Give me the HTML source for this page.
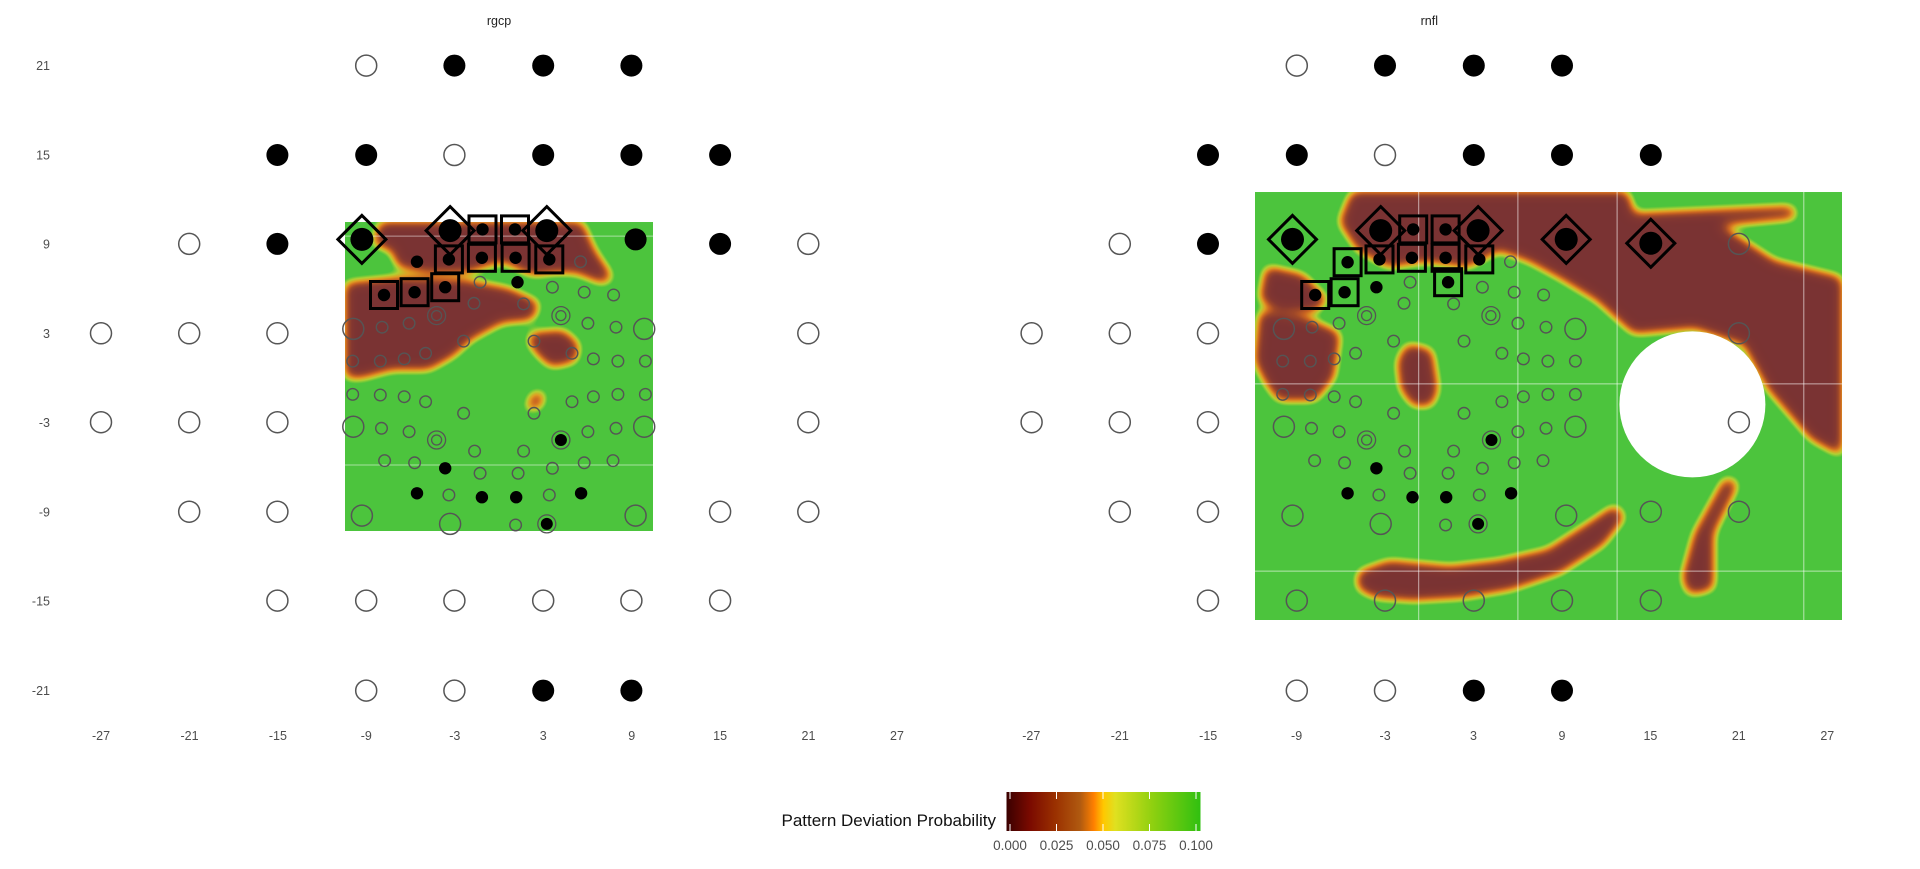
<!DOCTYPE html>
<html><head><meta charset="utf-8"><style>
html,body{margin:0;padding:0;background:#fff;}
svg{display:block;font-family:"Liberation Sans",sans-serif;}
</style></head><body>
<svg id="s" width="1920" height="869" viewBox="0 0 1920 869" xmlns="http://www.w3.org/2000/svg">
<defs>
<linearGradient id="cb" x1="0" x2="1" y1="0" y2="0">
<stop offset="0" stop-color="#3a0000"/>
<stop offset="0.12" stop-color="#7a0a00"/>
<stop offset="0.25" stop-color="#9a3000"/>
<stop offset="0.38" stop-color="#b05a10"/>
<stop offset="0.45" stop-color="#ff8000"/>
<stop offset="0.5" stop-color="#ffc800"/>
<stop offset="0.56" stop-color="#e0e020"/>
<stop offset="0.75" stop-color="#90d010"/>
<stop offset="1" stop-color="#30c010"/>
</linearGradient>
<filter id="hm" x="-5%" y="-5%" width="110%" height="110%" color-interpolation-filters="sRGB">
<feGaussianBlur stdDeviation="6"/>
<feComponentTransfer>
<feFuncR type="table" tableValues="0.48 0.52 0.62 0.80 0.88 0.70 0.30 0.30"/>
<feFuncG type="table" tableValues="0.20 0.22 0.28 0.40 0.62 0.82 0.77 0.77"/>
<feFuncB type="table" tableValues="0.20 0.19 0.16 0.13 0.14 0.20 0.24 0.24"/>
</feComponentTransfer>
</filter>
<clipPath id="cl"><rect x="345" y="222" width="308" height="309"/></clipPath>
<clipPath id="cr"><rect x="1255" y="192" width="587" height="428"/></clipPath>
</defs>
<g id="g"></g>
</svg>
<script>
var g=document.getElementById('g'),h='';
function P(pts,ox){var s='';for(var i=0;i<pts.length;i+=2){s+=(ox+pts[i]/1.633).toFixed(1)+','+(pts[i+1]/1.8).toFixed(1)+' ';}return s;}
h+='<g clip-path="url(#cl)"><g filter="url(#hm)"><rect x="330" y="210" width="340" height="340" fill="#fff"/>';
var L=[[620,400,950,400,970,450,1000,500,985,510,940,490,905,490,870,495,820,470,760,490,700,490,650,480,640,450,610,440],
[564,510,650,500,760,505,830,520,880,545,870,575,820,580,770,610,740,640,700,665,640,665,590,680,564,680],
[865,600,920,595,945,620,940,650,900,660,880,640,865,620],
[858,738,872,705,890,710,880,735]];
L.forEach(function(p){h+='<polygon fill="#000" points="'+P(p,0)+'"/>';});
h+='</g></g>';
h+='<g clip-path="url(#cr)"><g filter="url(#hm)"><rect x="1240" y="180" width="620" height="460" fill="#fff"/>';
var R=[[640,345,1090,345,1100,385,1360,372,1365,392,1240,405,1330,470,1440,500,1440,820,1390,790,1320,700,1280,620,1200,590,1100,600,1040,540,980,500,930,470,880,450,830,480,760,470,700,480,650,450,620,400],
[500,480,560,495,600,540,580,560,520,560,490,540],
[490,560,560,570,620,600,610,680,580,720,520,720,500,690,482,650],
[730,620,770,630,780,700,770,730,740,730,720,700,715,650],
[650,1030,700,1010,800,1020,880,1010,960,990,1030,940,1070,910,1085,930,1050,980,980,1030,900,1060,820,1075,740,1080,680,1075,650,1060],
[1250,860,1270,870,1230,960,1230,1060,1190,1070,1180,1040,1200,960]];
R.forEach(function(p){h+='<polygon fill="#000" points="'+P(p,960)+'"/>';});
h+='</g>';
[749,911,1073,1378].forEach(function(x){var X=(960+x/1.633).toFixed(1);h+='<line x1="'+X+'" x2="'+X+'" y1="190" y2="622" stroke="#fff" stroke-opacity="0.6" stroke-width="1"/>';});
[691,1028].forEach(function(y){var Y=(y/1.8).toFixed(1);h+='<line x1="1255" x2="1842" y1="'+Y+'" y2="'+Y+'" stroke="#fff" stroke-opacity="0.6" stroke-width="1"/>';});
h+='<circle cx="1692.4" cy="404.4" r="73" fill="#fff"/></g>';
[425,837].forEach(function(y){var Y=(y/1.8).toFixed(1);h+='<line x1="345" x2="653" y1="'+Y+'" y2="'+Y+'" stroke="#fff" stroke-opacity="0.5" stroke-width="1"/>';});
var xs=[-27,-21,-15,-9,-3,3,9,15,21,27],ys=[21,15,9,3,-3,-9,-15,-21];
[[499,'rgcp'],[1429.3,'rnfl']].forEach(function(pp){var cx=pp[0];
h+='<text x="'+cx+'" y="25" font-size="12.5" fill="#222" text-anchor="middle">'+pp[1]+'</text>';
xs.forEach(function(v){h+='<text x="'+(cx+v*14.74).toFixed(1)+'" y="740" font-size="12.5" fill="#4d4d4d" text-anchor="middle">'+v+'</text>';});});
ys.forEach(function(v){h+='<text x="50" y="'+(378-v*14.88+4.5).toFixed(1)+'" font-size="12.5" fill="#4d4d4d" text-anchor="end">'+v+'</text>';});
function C(ox,zx,zy,t){var x=(ox+zx/1.633).toFixed(1),y=(zy/1.8).toFixed(1);
if(t=='O')h+='<circle cx="'+x+'" cy="'+y+'" r="10.5" fill="none" stroke="#555" stroke-width="1.5"/>';
else if(t=='F')h+='<circle cx="'+x+'" cy="'+y+'" r="11" fill="#000"/>';
else if(t=='o')h+='<circle cx="'+x+'" cy="'+y+'" r="5.8" fill="none" stroke="#555" stroke-width="1.4"/>';
else if(t=='f')h+='<circle cx="'+x+'" cy="'+y+'" r="6.2" fill="#000"/>';
else if(t=='d')h+='<circle cx="'+x+'" cy="'+y+'" r="9" fill="none" stroke="#555" stroke-width="1.3"/><circle cx="'+x+'" cy="'+y+'" r="5" fill="none" stroke="#555" stroke-width="1.3"/>';
else if(t=='df')h+='<circle cx="'+x+'" cy="'+y+'" r="9" fill="none" stroke="#555" stroke-width="1.3"/><circle cx="'+x+'" cy="'+y+'" r="6" fill="#000"/>';
else if(t=='B')h+='<rect x="'+(x-13.5)+'" y="'+(y-13.5)+'" width="27" height="27" fill="none" stroke="#000" stroke-width="3"/><circle cx="'+x+'" cy="'+y+'" r="6.2" fill="#000"/>';
else if(t=='D')h+='<polygon points="'+x+','+(y-24)+' '+(+x+24)+','+y+' '+x+','+(+y+24)+' '+(x-24)+','+y+'" fill="none" stroke="#000" stroke-width="3"/><circle cx="'+x+'" cy="'+y+'" r="11.5" fill="#000"/>';
}
var os=[[948,471],[784,508],[902,517],[954,526],[1002,531],[774,546],[855,547],[624,589],[668,582],[960,582],[1006,589],[757,614],[872,614],[934,636],[576,650],[621,650],[660,646],[695,636],[969,646],[1009,650],[1054,650],[576,710],[621,711],[660,714],[695,723],[934,723],[969,714],[1009,710],[1054,710],[757,744],[872,744],[623,771],[668,777],[960,777],[1006,771],[775,812],[855,812],[628,829],[677,833],[902,843],[954,833],[1001,829],[784,852],[846,852],[733,891],[897,891],[842,945]];
var ds=[[713,568],[916,568],[713,792]];
[[598,118,'O'],[742,118,'F'],[887,118,'F'],[1031,118,'F'],
[453,279,'F'],[598,279,'F'],[742,279,'O'],[887,279,'F'],[1031,279,'F'],[1176,279,'F'],
[309,439,'O'],[453,439,'F'],[1176,439,'F'],[1320,439,'O'],[1038,431,'F'],
[165,600,'O'],[309,600,'O'],[453,600,'O'],[1320,600,'O'],[577,592,'O'],[1052,592,'O'],
[165,760,'O'],[309,760,'O'],[453,760,'O'],[1320,760,'O'],[577,768,'O'],[1052,768,'O'],
[309,921,'O'],[453,921,'O'],[1176,921,'O'],[1320,921,'O'],[591,928,'O'],[735,943,'O'],[1038,928,'O'],
[453,1081,'O'],[598,1081,'O'],[742,1081,'O'],[887,1081,'O'],[1031,1081,'O'],[1176,1081,'O'],
[598,1243,'O'],[742,1243,'O'],[887,1243,'F'],[1031,1243,'F']].forEach(function(p){C(0,p[0],p[1],p[2]);});
os.forEach(function(p){C(0,p[0],p[1],'o');});
ds.forEach(function(p){C(0,p[0],p[1],'d');});
[[681,471],[845,508],[727,843],[681,888],[787,895],[843,895],[949,888]].forEach(function(p){C(0,p[0],p[1],'f');});
C(0,916,792,'df');C(0,893,943,'df');
[[788,413],[841,413],[733,467],[787,464],[842,464],[897,467],[627,531],[677,526],[727,517]].forEach(function(p){C(0,p[0],p[1],'B');});
[[591,431],[735,415],[893,415]].forEach(function(p){C(0,p[0],p[1],'D');});
[[550,118,'O'],[694,118,'F'],[839,118,'F'],[983,118,'F'],
[405,279,'F'],[550,279,'F'],[694,279,'O'],[839,279,'F'],[983,279,'F'],[1128,279,'F'],
[261,439,'O'],[405,439,'F'],[1272,439,'O'],
[117,600,'O'],[261,600,'O'],[405,600,'O'],[529,592,'O'],[1005,592,'O'],[1272,600,'O'],
[117,760,'O'],[261,760,'O'],[405,760,'O'],[529,768,'O'],[1005,768,'O'],[1272,760,'O'],
[261,921,'O'],[405,921,'O'],[543,928,'O'],[687,943,'O'],[990,928,'O'],[1128,921,'O'],[1272,921,'O'],
[405,1081,'O'],[550,1081,'O'],[694,1081,'O'],[839,1081,'O'],[983,1081,'O'],[1128,1081,'O'],
[550,1243,'O'],[694,1243,'O'],[839,1243,'F'],[983,1243,'F']].forEach(function(p){C(960,p[0],p[1],p[2]);});
os.forEach(function(p){C(960,p[0]-49,p[1],'o');});
ds.forEach(function(p){C(960,p[0]-49,p[1],'d');});
[[680,517],[680,843],[633,888],[739,895],[794,895],[900,888]].forEach(function(p){C(960,p[0],p[1],'f');});
C(960,868,792,'df');C(960,846,943,'df');
[[740,413],[793,413],[633,472],[685,467],[738,464],[793,464],[848,467],[797,508],[580,531],[628,526]].forEach(function(p){C(960,p[0],p[1],'B');});
[[543,431],[687,415],[846,415],[990,431],[1128,438]].forEach(function(p){C(960,p[0],p[1],'D');});
h+='<text x="996" y="826" font-size="17" fill="#111" text-anchor="end">Pattern Deviation Probability</text>';
h+='<rect x="1006.5" y="792" width="194" height="39" fill="url(#cb)"/>';
var lv=['0.000','0.025','0.050','0.075','0.100'];
for(var i=0;i<5;i++){var x=1010+i*46.5;
h+='<line x1="'+x+'" x2="'+x+'" y1="792" y2="799" stroke="#fff" stroke-width="1"/><line x1="'+x+'" x2="'+x+'" y1="824" y2="831" stroke="#fff" stroke-width="1"/>';
h+='<text x="'+x+'" y="850" font-size="13.5" fill="#4d4d4d" text-anchor="middle">'+lv[i]+'</text>';}
g.innerHTML=h;
</script>
</body></html>
